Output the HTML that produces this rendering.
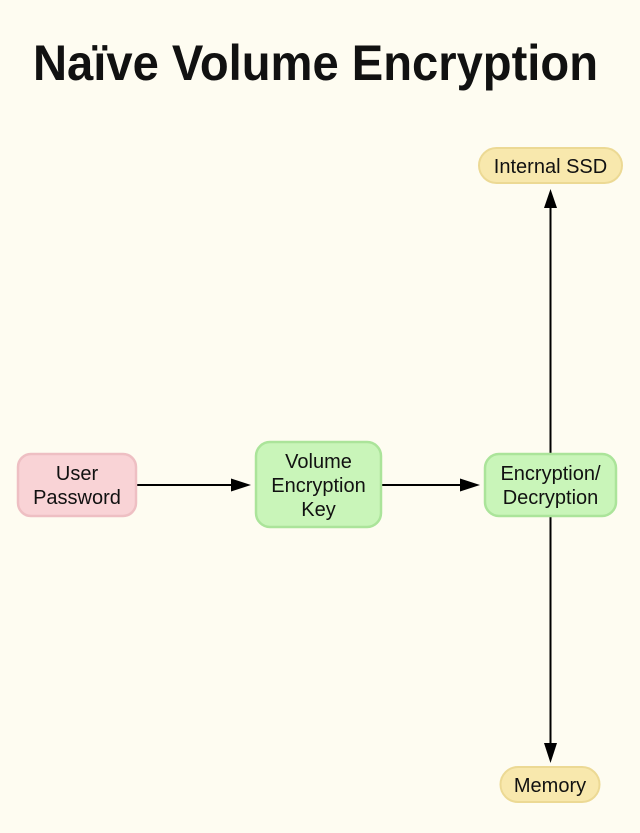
<!DOCTYPE html>
<html>
<head>
<meta charset="utf-8">
<style>
  html, body { margin: 0; padding: 0; background: #fefcf1; }
  svg { display: block; }
  text { font-family: "Liberation Sans", Arial, sans-serif; fill: #111; }
</style>
</head>
<body>
<svg width="640" height="833" viewBox="0 0 640 833" xmlns="http://www.w3.org/2000/svg">
  <rect x="0" y="0" width="640" height="833" fill="#fefcf1"/>

  <!-- Title -->
  <text x="33" y="80" font-size="50" font-weight="bold" textLength="565" lengthAdjust="spacingAndGlyphs">Naïve Volume Encryption</text>

  <!-- Connectors -->
  <g stroke="#000" stroke-width="2" fill="none">
    <line x1="137" y1="485" x2="233" y2="485"/>
    <line x1="382" y1="485" x2="462" y2="485"/>
    <line x1="550.5" y1="453" x2="550.5" y2="206"/>
    <line x1="550.5" y1="516" x2="550.5" y2="745"/>
  </g>
  <g fill="#000">
    <polygon points="231,478.5 251,485 231,491.5"/>
    <polygon points="460,478.5 480,485 460,491.5"/>
    <polygon points="544,208 550.5,189 557,208"/>
    <polygon points="544,743 550.5,763 557,743"/>
  </g>

  <!-- User Password -->
  <rect x="18" y="454" width="118" height="62" rx="13" ry="13" fill="#f9d3d6" stroke="#eebfc3" stroke-width="2.5"/>
  <text x="77" y="480" font-size="20" text-anchor="middle">User</text>
  <text x="77" y="504" font-size="20" text-anchor="middle">Password</text>

  <!-- Volume Encryption Key -->
  <rect x="256" y="442" width="125" height="85" rx="14" ry="14" fill="#c9f5b9" stroke="#abe49a" stroke-width="2.5"/>
  <text x="318.5" y="468" font-size="20" text-anchor="middle">Volume</text>
  <text x="318.5" y="492" font-size="20" text-anchor="middle">Encryption</text>
  <text x="318.5" y="516" font-size="20" text-anchor="middle">Key</text>

  <!-- Encryption/Decryption -->
  <rect x="485" y="454" width="131" height="62" rx="14" ry="14" fill="#c9f5b9" stroke="#abe49a" stroke-width="2.5"/>
  <text x="550.5" y="480" font-size="20" text-anchor="middle">Encryption/</text>
  <text x="550.5" y="504" font-size="20" text-anchor="middle">Decryption</text>

  <!-- Internal SSD -->
  <rect x="479" y="148" width="143" height="35" rx="17.5" ry="17.5" fill="#f8e8ad" stroke="#ecd994" stroke-width="2"/>
  <text x="550.5" y="173" font-size="20" text-anchor="middle">Internal SSD</text>

  <!-- Memory -->
  <rect x="500.5" y="767" width="99" height="35" rx="17.5" ry="17.5" fill="#f8e8ad" stroke="#ecd994" stroke-width="2"/>
  <text x="550" y="792" font-size="20" text-anchor="middle">Memory</text>
</svg>
</body>
</html>
